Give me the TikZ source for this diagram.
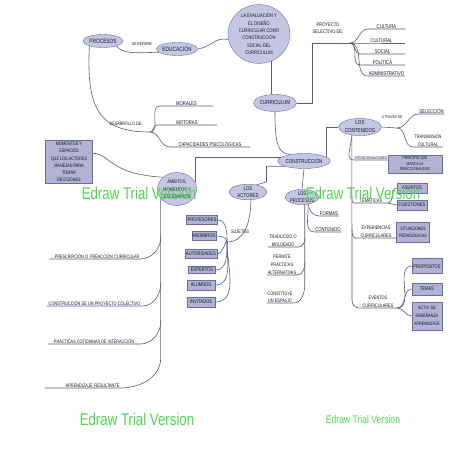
\documentclass[tikz,border=0pt]{standalone}
\usepackage{fontspec}
\setmainfont[FakeStretch=0.78]{Liberation Sans}
\usepackage{tikz}
\usetikzlibrary{shapes.geometric}

\definecolor{borde}{HTML}{6C6C9C}
\definecolor{relleno}{HTML}{C6C6E4}
\definecolor{caja}{HTML}{B2B2D4}
\definecolor{linea}{HTML}{5C5C7C}
\definecolor{letra}{HTML}{141420}
\definecolor{verde}{HTML}{4CDA4C}

\tikzset{
  elipse/.style = {ellipse , draw = borde , fill = relleno , inner sep = 0pt , align = center , text = letra , font = \fontsize{6.2}{7}\selectfont},
  recuadro/.style = {rectangle , draw = borde , fill = caja , inner sep = 1pt , align = center , text = letra , font = \fontsize{5.3}{6}\selectfont},
  etiqueta/.style = {inner sep = 0.6pt , align = center , text = letra , font = \fontsize{5.4}{6}\selectfont},
  rama/.style = {draw = linea , line width = 0.6pt},
  agua/.style = {text = verde , inner sep = 0pt , font = \fontsize{17}{17}\selectfont}
}

\begin{document}
\begin{tikzpicture}[x = 1pt , y = -1pt]
    \useasboundingbox (0,0) rectangle (453,453);

    % elipses
    \node[elipse , minimum width = 40 , minimum height = 13] (procesos) at (103,41) {PROCESOS};
    \node[elipse , minimum width = 38 , minimum height = 13] (educacion) at (177,49) {EDUCACIÓN};
    \node[elipse , minimum width = 62 , minimum height = 57 , font = \fontsize{5.2}{7.4}\selectfont] (evaluacion) at (259,34) {LA EVALUACIÓN Y\\EL DISEÑO\\CURRICULAR COMO\\CONSTRUCCIÓN\\SOCIAL DEL\\CURRICULUM};
    \node[elipse , minimum width = 36 , minimum height = 17 , font = \fontsize{5.8}{7}\selectfont] (curriculum) at (275,103) {CURRICULUM};
    \node[elipse , minimum width = 44 , minimum height = 15 , font = \fontsize{5.8}{7}\selectfont] (construccion) at (304,161) {CONSTRUCCIÓN};
    \node[elipse , minimum width = 40 , minimum height = 17 , font = \fontsize{5.8}{8}\selectfont] (contenidos) at (360,127) {LOS\\CONTENIDOS};
    \node[elipse , minimum width = 39 , minimum height = 33 , font = \fontsize{5.2}{7.5}\selectfont] (ambitos) at (177,189) {ÁMBITOS,\\MOMENTOS Y\\ESCENARIOS};
    \node[elipse , minimum width = 38 , minimum height = 15 , font = \fontsize{5.6}{7}\selectfont] (actores) at (248,192) {LOS\\ACTORES};
    \node[elipse , minimum width = 32 , minimum height = 15 , font = \fontsize{5.4}{6.5}\selectfont] (lprocesos) at (302,197) {LOS\\PROCESOS};

    % recuadros
    \node[recuadro , minimum width = 47 , minimum height = 43 , font = \fontsize{4.9}{7.3}\selectfont] (momentos) at (69,162) {MOMENTOS Y\\ESPACIOS\\QUE LOS ACTORES\\MANEJAN PARA\\TOMAR\\DECISIONES};
    \node[recuadro , minimum width = 54 , minimum height = 18 , font = \fontsize{4.2}{5.5}\selectfont] (principio) at (415,164) {PRINCIPIO QUE\\MARCA LA\\DIRECCIONALIDAD};
    \node[recuadro , minimum width = 30 , minimum height = 10] (asuntos) at (412,188) {ASUNTOS};
    \node[recuadro , minimum width = 30 , minimum height = 10] (cuestiones) at (412,205) {CUESTIONES};
    \node[recuadro , minimum width = 33 , minimum height = 20 , font = \fontsize{4.8}{7}\selectfont] (situaciones) at (413,232) {SITUACIONES\\PEDAGÓGICAS};
    \node[recuadro , minimum width = 30 , minimum height = 15] (propositos) at (427,266) {PROPÓSITOS};
    \node[recuadro , minimum width = 30 , minimum height = 12] (temas) at (427,289) {TEMAS};
    \node[recuadro , minimum width = 30 , minimum height = 28 , font = \fontsize{4.8}{8}\selectfont] (activ) at (427,316) {ACTIV. DE\\ENSEÑANZA\\APRENDIZAJE};
    \node[recuadro , minimum width = 30 , minimum height = 9] (profesores) at (202,220) {PROFESORES};
    \node[recuadro , minimum width = 24 , minimum height = 9] (miembros) at (204,236) {MIEMBROS};
    \node[recuadro , minimum width = 32 , minimum height = 9] (autoridades) at (201,254) {AUTORIDADES};
    \node[recuadro , minimum width = 27 , minimum height = 7] (expertos) at (202,270) {EXPERTOS};
    \node[recuadro , minimum width = 28 , minimum height = 10] (alumnos) at (201,285) {ALUMNOS};
    \node[recuadro , minimum width = 28 , minimum height = 10] (invitados) at (201,302) {INVITADOS};

    % etiquetas
    \node[etiqueta , font = \fontsize{4.3}{5}\selectfont] (serefiere) at (142,44) {SE REFIERE};
    \node[etiqueta , font = \fontsize{4.8}{5}\selectfont] (desarrollo) at (126,124) {DESARROLLO DE:};
    \node[etiqueta , anchor = south , minimum width = 53] (morales) at (186.5,106) {MORALES};
    \node[etiqueta , anchor = south , minimum width = 60] (motoras) at (187,125) {MOTORAS};
    \node[etiqueta , anchor = south , minimum width = 80] (capacidades) at (210,147) {CAPACIDADES PSICOLÓGICAS};
    \node[etiqueta , font = \fontsize{5.2}{6.5}\selectfont] (proyecto) at (328,28) {PROYECTO\\SELECTIVO DE:};
    \node[etiqueta , anchor = south , minimum width = 37] (cultura) at (386.5,29) {CULTURA};
    \node[etiqueta , anchor = south , minimum width = 47] (cultural) at (381.5,43) {CULTURAL};
    \node[etiqueta , anchor = south , minimum width = 45] (social) at (382.5,54) {SOCIAL};
    \node[etiqueta , anchor = south , minimum width = 45] (politica) at (382.5,65) {POLÍTICA};
    \node[etiqueta , anchor = south , minimum width = 37] (administrativo) at (386.5,76) {ADMINISTRATIVO};
    \node[etiqueta , font = \fontsize{4}{4}\selectfont] (traves) at (392,117) {A TRAVÉS DE};
    \node[etiqueta , anchor = south , minimum width = 23] (seleccion) at (431.5,114) {SELECCIÓN};
    \node[etiqueta , anchor = south , minimum width = 30 , font = \fontsize{5}{7.5}\selectfont] (transmision) at (428,147) {TRANSMISIÓN\\CULTURAL};
    \node[etiqueta , anchor = south , minimum width = 32 , font = \fontsize{4}{4}\selectfont] (intencion) at (371,160) {INTENCIONALIDADES};
    \node[etiqueta , anchor = south , minimum width = 33 , font = \fontsize{5}{5}\selectfont] (tematicas) at (371,203) {TEMÁTICAS};
    \node[etiqueta , anchor = south , minimum width = 40 , font = \fontsize{5}{8}\selectfont] (experiencias) at (376,238) {EXPERIENCIAS\\CURRICULARES};
    \node[etiqueta , anchor = south , minimum width = 38 , font = \fontsize{5}{7.5}\selectfont] (eventos) at (378,308) {EVENTOS\\CURRICULARES};
    \node[etiqueta , font = \fontsize{5}{5}\selectfont] (sujetos) at (240,232) {SUJETOS};
    \node[etiqueta , anchor = south , minimum width = 30 , font = \fontsize{5}{8}\selectfont] (traducido) at (283,247) {TRADUCIDO O\\MOLDEADO};
    \node[etiqueta , anchor = south , minimum width = 28 , font = \fontsize{5}{8}\selectfont] (permite) at (282,275) {PERMITE\\PRÁCTICAS\\ALTERNATIVAS};
    \node[etiqueta , anchor = south , minimum width = 24 , font = \fontsize{5}{7}\selectfont] (constituye) at (280,303) {CONSTITUYE\\UN ESPACIO};
    \node[etiqueta , anchor = south , minimum width = 18] (formas) at (329,216) {FORMAS};
    \node[etiqueta , anchor = south , minimum width = 22] (contenido) at (328,232) {CONTENIDO};
    \node[etiqueta , anchor = south , text width = 89 , align = right , font = \fontsize{4.9}{5}\selectfont] (prescripcion) at (95,259) {PRESCRIPCIÓN O PREACCIÓN CURRICULAR};
    \node[etiqueta , anchor = south , minimum width = 95 , font = \fontsize{5}{5}\selectfont] (colectivo) at (94.5,306) {CONSTRUCCIÓN DE UN PROYECTO COLECTIVO};
    \node[etiqueta , anchor = south , minimum width = 92 , font = \fontsize{4.9}{5}\selectfont] (practicas) at (94,344) {PRÁCTICAS COTIDIANAS DE INTERACCIÓN};
    \node[etiqueta , anchor = south , text width = 74 , align = right , font = \fontsize{5}{5}\selectfont] (aprendizaje) at (82.5,388) {APRENDIZAJE RESULTANTE};

    % nudos
    \coordinate (nudoDes) at (150,132);
    \coordinate (esqProy) at (312,43);
    \coordinate (nudoProy) at (350,43);
    \coordinate (nudoTrav) at (397,128);
    \coordinate (ejeT) at (352,196);
    \coordinate (ejeE) at (352,230);
    \coordinate (ejeC) at (352,300);
    \coordinate (nudoSuj) at (227,242);
    \coordinate (rP1) at (305,238);
    \coordinate (rP2) at (305,262);
    \coordinate (ejeP) at (305,284);
    \coordinate (rA1) at (161,236);
    \coordinate (rA2) at (161,282);
    \coordinate (rA3) at (161,320);
    \coordinate (ejeA) at (161,358);

    % conexiones
    \draw[rama] (procesos.-20) .. controls (122,54) and (135,53) .. (educacion.190);
    \draw[rama] (educacion.east) .. controls (212,47) and (214,37) .. (evaluacion.190);
    \draw[rama] (evaluacion.-65) -- (evaluacion.-65 |- curriculum.north);
    \draw[rama] (procesos.-160) .. controls (86,110) and (100,132) .. (nudoDes);
    \draw[rama] (nudoDes) to[out = 0 , in = 180] (morales.south west) -- (morales.south east);
    \draw[rama] (nudoDes) to[out = 0 , in = 180] (motoras.south west) -- (motoras.south east);
    \draw[rama] (nudoDes) to[out = 0 , in = 180] (capacidades.south west) -- (capacidades.south east);

    \draw[rama] (curriculum.east) -| (esqProy) -- (nudoProy);
    \draw[rama] (nudoProy) to[out = 0 , in = 180] (cultura.south west) -- (cultura.south east);
    \draw[rama] (nudoProy) -- (cultural.south west) -- (cultural.south east);
    \draw[rama] (nudoProy) to[out = 0 , in = 180] (social.south west) -- (social.south east);
    \draw[rama] (nudoProy) to[out = 0 , in = 180] (politica.south west) -- (politica.south east);
    \draw[rama] (nudoProy) to[out = 0 , in = 180] (administrativo.south west) -- (administrativo.south east);

    \draw[rama] (curriculum.south) .. controls (275,145) and (278,153) .. (construccion.155);
    \draw[rama] (construccion.10) |- (contenidos.west);
    \draw[rama] (construccion.170) -| (ambitos.20);
    \draw[rama] (actores.40) -- ++(10,-3) |- (construccion.195);
    \draw[rama] (construccion.south) -- (lprocesos.north);

    \draw[rama] (contenidos.east) -- (nudoTrav);
    \draw[rama] (nudoTrav) to[out = 0 , in = 180] (seleccion.south west) -- (seleccion.south east);
    \draw[rama] (nudoTrav) to[out = 0 , in = 180] (transmision.south west) -- (transmision.south east);
    \draw[rama] (contenidos.225) to[out = -90 , in = 180] (intencion.south west) -- (principio.west |- intencion.south east);
    \draw[rama] (contenidos.225) -- (ejeC) to[out = -90 , in = 180] (eventos.south west) -- (eventos.south east);
    \draw[rama] (ejeT) to[out = -90 , in = 180] (tematicas.south west) -- (tematicas.south east);
    \draw[rama] (tematicas.south east) to[out = 0 , in = 180] (asuntos.west);
    \draw[rama] (tematicas.south east) to[out = 0 , in = 180] (cuestiones.west);
    \draw[rama] (ejeE) to[out = -90 , in = 180] (experiencias.south west) -- (situaciones.west |- experiencias.south east);
    \draw[rama] (eventos.south east) to[out = 0 , in = 180] (propositos.west);
    \draw[rama] (eventos.south east) to[out = 0 , in = 180] (temas.west);
    \draw[rama] (eventos.south east) to[out = 0 , in = 180] (activ.west);

    \draw[rama] (momentos.20) .. controls (110,153) and (108,174) .. (ambitos.140);
    \draw[rama] (ambitos.210) -- (ambitos.210 |- ejeA) to[out = -90 , in = 0] (aprendizaje.south east) -- (aprendizaje.south west);
    \draw[rama] (prescripcion.south west) -- (prescripcion.south east) to[out = 0 , in = -90] (rA1);
    \draw[rama] (colectivo.south west) -- (colectivo.south east) to[out = 0 , in = -90] (rA2);
    \draw[rama] (practicas.south west) -- (practicas.south east) to[out = 0 , in = -90] (rA3);

    \draw[rama] (actores.-70) to[out = -90 , in = 0] (nudoSuj);
    \draw[rama] (profesores.east) to[out = 0 , in = 90] (nudoSuj);
    \draw[rama] (miembros.east) to[out = 0 , in = 90] (nudoSuj);
    \draw[rama] (autoridades.east) to[out = 0 , in = 90] (nudoSuj);
    \draw[rama] (expertos.east) to[out = 0 , in = -90] (nudoSuj);
    \draw[rama] (alumnos.east) to[out = 0 , in = -90] (nudoSuj);
    \draw[rama] (invitados.east) to[out = 0 , in = -90] (nudoSuj);

    \draw[rama] (lprocesos.-70) -- (lprocesos.-70 |- ejeP) to[out = -90 , in = 0] (constituye.south east) -- (constituye.south west);
    \draw[rama] (traducido.south west) -- (traducido.south east) to[out = 0 , in = -90] (rP1);
    \draw[rama] (permite.south west) -- (permite.south east) to[out = 0 , in = -90] (rP2);
    \draw[rama] (lprocesos.-50) to[out = -80 , in = 180] (formas.south west) -- (formas.south east);
    \draw[rama] (lprocesos.-50) to[out = -85 , in = 180] (contenido.south west) -- (contenido.south east);

    % marca de agua
    \node[agua] (marca1) at (139,193) {Edraw Trial Version};
    \node[agua] (marca2) at (363,193) {Edraw Trial Version};
    \node[agua] (marca3) at (137,419) {Edraw Trial Version};
    \node[agua , font = \fontsize{11}{11}\selectfont] (marca4) at (363,420) {Edraw Trial Version};
\end{tikzpicture}
\end{document}
